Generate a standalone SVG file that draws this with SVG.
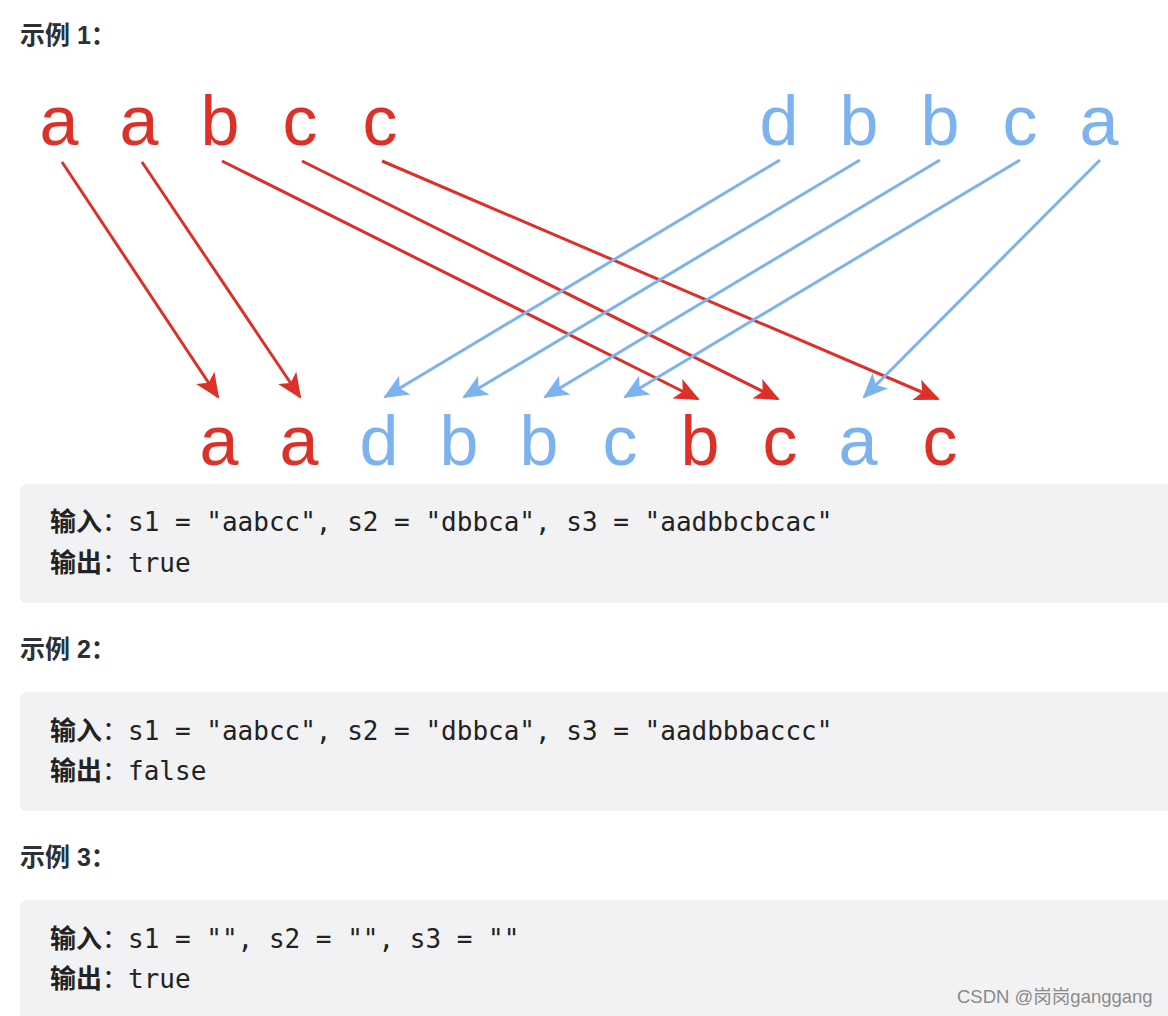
<svg xmlns="http://www.w3.org/2000/svg" width="1168" height="1016" viewBox="0 0 1168 1016">
<defs>
<style>
.title{font-family:"Liberation Sans","Noto Sans CJK SC",sans-serif;font-size:25px;font-weight:bold;fill:#2b2f36}
.big{font-family:"Liberation Sans","Noto Sans CJK SC",sans-serif;font-size:70px;text-anchor:middle}
.r{fill:#dc3028}
.b{fill:#7cb2ee}
.code{font-family:"DejaVu Sans Mono","Noto Sans CJK SC",monospace;font-size:26px;fill:#222}
.cjk{font-family:"Noto Sans CJK SC",sans-serif;font-weight:bold}
.box{fill:#f2f2f4}
.lr{stroke:#dc3028;stroke-width:3;fill:none;marker-end:url(#ar)}
.lb{stroke:#7cb2ee;stroke-width:3;fill:none;marker-end:url(#ab)}
.wm{font-family:"Liberation Sans","Noto Sans CJK SC",sans-serif;font-size:18.5px;fill:#8a8a8a}
</style>
<marker id="ar" markerUnits="userSpaceOnUse" markerWidth="32" markerHeight="26" viewBox="-26 -13 32 26" refX="0" refY="0" orient="auto">
<path d="M2,0 L-23,-11 L-17,0 L-23,11 Z" fill="#dc3028"/>
</marker>
<marker id="ab" markerUnits="userSpaceOnUse" markerWidth="32" markerHeight="26" viewBox="-26 -13 32 26" refX="0" refY="0" orient="auto">
<path d="M2,0 L-23,-11 L-17,0 L-23,11 Z" fill="#7cb2ee"/>
</marker>
</defs>
<rect width="1168" height="1016" fill="#ffffff"/>

<g id="title1"><text class="title" x="20" y="44">示例 1：</text></g>

<g id="s1">
<text class="big r" x="59" y="145">a</text>
<text class="big r" x="139" y="145">a</text>
<text class="big r" x="220" y="145">b</text>
<text class="big r" x="300" y="145">c</text>
<text class="big r" x="380" y="145">c</text>
</g>
<g id="s2">
<text class="big b" x="779" y="145">d</text>
<text class="big b" x="859" y="145">b</text>
<text class="big b" x="940" y="145">b</text>
<text class="big b" x="1020" y="145">c</text>
<text class="big b" x="1099" y="145">a</text>
</g>
<g id="s3">
<text class="big r" x="219" y="465">a</text>
<text class="big r" x="299" y="465">a</text>
<text class="big b" x="379" y="465">d</text>
<text class="big b" x="459" y="465">b</text>
<text class="big b" x="539" y="465">b</text>
<text class="big b" x="620" y="465">c</text>
<text class="big r" x="700" y="465">b</text>
<text class="big r" x="780" y="465">c</text>
<text class="big b" x="858" y="465">a</text>
<text class="big r" x="940" y="465">c</text>
</g>

<g id="connectors">
<line class="lr" x1="62" y1="162" x2="218" y2="397"/>
<line class="lr" x1="142" y1="162" x2="300" y2="397"/>
<line class="lr" x1="222" y1="161" x2="698" y2="399"/>
<line class="lr" x1="302" y1="161" x2="778" y2="399"/>
<line class="lr" x1="382" y1="161" x2="938" y2="399"/>
<line class="lb" x1="780" y1="160" x2="385" y2="397"/>
<line class="lb" x1="860" y1="160" x2="464" y2="397"/>
<line class="lb" x1="940" y1="160" x2="545" y2="397"/>
<line class="lb" x1="1020" y1="160" x2="625" y2="397"/>
<line class="lb" x1="1100" y1="160" x2="864" y2="397"/>
</g>

<g id="example1">
<rect class="box" x="20" y="484" width="1160" height="119" rx="6"/>
<text class="code" x="50" y="531"><tspan class="cjk">输入</tspan>：s1 = "aabcc", s2 = "dbbca", s3 = "aadbbcbcac"</text>
<text class="code" x="50" y="572"><tspan class="cjk">输出</tspan>：true</text>
</g>

<g id="title2"><text class="title" x="20" y="658">示例 2：</text></g>
<g id="example2">
<rect class="box" x="20" y="692" width="1160" height="119" rx="6"/>
<text class="code" x="50" y="740"><tspan class="cjk">输入</tspan>：s1 = "aabcc", s2 = "dbbca", s3 = "aadbbbaccc"</text>
<text class="code" x="50" y="780"><tspan class="cjk">输出</tspan>：false</text>
</g>

<g id="title3"><text class="title" x="20" y="866">示例 3：</text></g>
<g id="example3">
<rect class="box" x="20" y="900" width="1160" height="130" rx="6"/>
<text class="code" x="50" y="948"><tspan class="cjk">输入</tspan>：s1 = "", s2 = "", s3 = ""</text>
<text class="code" x="50" y="988"><tspan class="cjk">输出</tspan>：true</text>
</g>

<g id="watermark"><text class="wm" x="957" y="1003">CSDN @岗岗ganggang</text></g>
</svg>
